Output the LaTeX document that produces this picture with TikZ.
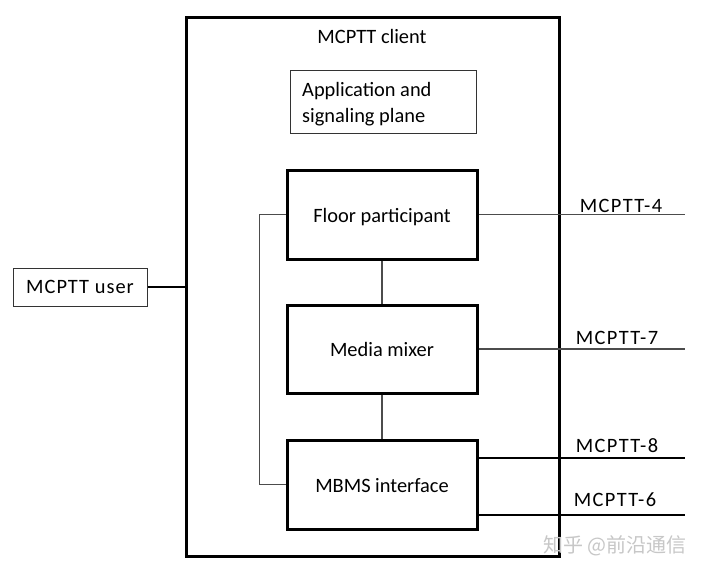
\documentclass[tikz,border=0pt]{standalone}
\usepackage{fontspec}
\setmainfont{Carlito}
\newfontfamily\cjk{Noto Sans CJK SC}
\begin{document}
\begin{tikzpicture}[x=1pt,y=-1pt,
  every node/.style={font=\fontsize{20.4}{24}\selectfont},
  thickbox/.style={draw=black, line width=3pt, minimum width=190pt, minimum height=89pt, inner sep=0pt, text height=17pt, text depth=2pt},
  thinbox/.style={draw=black!80, line width=1pt, inner sep=0pt},
  conn/.style={draw=black!70, line width=1.3pt},
  lbl/.style={inner sep=0pt},
  spaced/.style={font=\fontsize{20.4}{24}\selectfont\addfontfeatures{LetterSpace=7}}]
\useasboundingbox (0,0) rectangle (707,576);
\fill[white] (0,0) rectangle (707,576);
% outer client
\node[draw=black, line width=3pt, minimum width=373pt, minimum height=539pt, inner sep=0pt] (client) at (372.5,286.5) {};
\node[lbl] (clientlbl) at (372,36) {MCPTT client};
% application plane
\node[thinbox, minimum width=186pt, minimum height=63pt] (app) at (383,101.5) {};
\node[lbl, anchor=west, align=left, font=\fontsize{20.4}{26}\selectfont] (apptxt) at (302,104) {Application and\\signaling plane};
% inner boxes
\node[thickbox] (fp) at (382,214.5) {Floor participant};
\node[thickbox, minimum height=88pt] (mm) at (382,349) {Media mixer};
\node[thickbox] (mbms) at (382,484.5) {MBMS interface};
% user
\node[thinbox, minimum width=134pt, minimum height=38pt, font=\fontsize{20.4}{24}\selectfont\addfontfeatures{LetterSpace=5}] (user) at (80,287) {MCPTT user};
% connectors
\draw[conn] (fp.south) -- (mm.north);
\draw[conn] (mm.south) -- (mbms.north);
\draw[conn] (fp.west) -- ++(-26,0) |- (mbms.west);
\draw[conn, black] (user.east) -- (user.east -| client.west);
% reference points
\coordinate (e4) at (685,214.5);
\coordinate (e7) at (685,349);
\coordinate (e8) at (685,458);
\coordinate (e6) at (685,515);
\draw[conn] (fp.east) -- (e4);
\draw[conn] (mm.east) -- (e7);
\draw[conn, black] (mbms.east |- e8) -- (e8);
\draw[conn, black] (mbms.east |- e6) -- (e6);
\node[lbl, spaced] (l4) at (621,206) {MCPTT-4};
\node[lbl, spaced] (l7) at (617,338) {MCPTT-7};
\node[lbl, spaced] (l8) at (617,446) {MCPTT-8};
\node[lbl, spaced] (l6) at (615,500) {MCPTT-6};
% watermark
\node[lbl, text=black!22, font=\cjk\fontsize{20}{24}\selectfont] (wm) at (615,546) {知乎 @前沿通信};
\end{tikzpicture}
\end{document}
